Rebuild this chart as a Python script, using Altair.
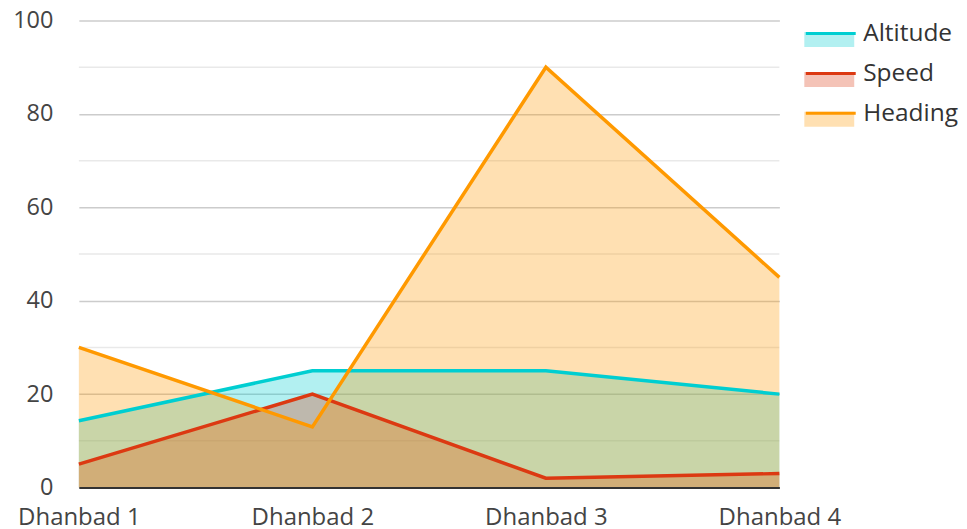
import altair as alt
import pandas as pd

places = ["Dhanbad 1", "Dhanbad 2", "Dhanbad 3", "Dhanbad 4"]
series_names = ["Altitude", "Speed", "Heading"]
altitude = [14.3, 25, 25, 20]
speed = [5, 20, 2, 3]
heading = [30, 13, 90, 45]
minor_grid = [10, 30, 50, 70, 90]
major_ticks = [0, 20, 40, 60, 80, 100]
colors = ["#00CED1", "#DC3912", "#FF9900"]

rows = []
for name, vals in zip(series_names, [altitude, speed, heading]):
    for p, v in zip(places, vals):
        rows.append({"place": p, "series": name, "series_line": name, "value": v})
df = pd.DataFrame(rows)

FONT = "Open Sans"
TXT = "#444444"

y_axis = alt.Axis(values=major_ticks, grid=True, gridColor="#cccccc", gridWidth=1.5,
                  domain=False, ticks=False, labelFontSize=23.5, labelPadding=26,
                  labelColor=TXT, title=None, labelFont=FONT)
y_scale = alt.Scale(domain=[0, 100], nice=False, zero=True)
y_enc = alt.Y("value:Q", scale=y_scale, axis=y_axis)

x_enc = alt.X("place:N", sort=places, scale=alt.Scale(type="point", padding=0),
              axis=alt.Axis(labelAngle=0, domain=True, domainColor="#333333", domainWidth=2,
                            ticks=False, grid=False, labelFontSize=24, labelPadding=18,
                            labelColor=TXT, title=None, labelFont=FONT, zindex=1))

minor = alt.Chart(pd.DataFrame({"value": minor_grid})).mark_rule(
    color="#e9e9e9", strokeWidth=1.5).encode(y=y_enc)

LX, LY, RP = 727, -11, 2
fill_legend = alt.Legend(orient="none", legendX=LX, legendY=LY, padding=0, title=None,
                         symbolType="M-1,-0.1H1V0.5H-1Z", symbolSize=2500,
                         symbolOpacity=0.3, symbolStrokeWidth=0,
                         labelFontSize=24.5, labelFont=FONT, labelColor="#333333",
                         labelOffset=9, rowPadding=RP)
stroke_legend = alt.Legend(orient="none", legendX=LX, legendY=LY, padding=0, title=None,
                           symbolType="M-1,-0.1H1", symbolSize=2500,
                           symbolStrokeWidth=3, symbolFillColor="transparent",
                           labelFontSize=24.5, labelFont=FONT, labelOpacity=0,
                           labelOffset=9, rowPadding=RP)

areas = []
lines = []
for s in series_names:
    areas.append(
        alt.Chart(df).transform_filter(alt.datum.series == s).mark_area(fillOpacity=0.3).encode(
            x=x_enc, y=y_enc,
            fill=alt.Fill("series:N", scale=alt.Scale(domain=series_names, range=colors),
                          legend=fill_legend)))
    lines.append(
        alt.Chart(df).transform_filter(alt.datum.series == s).mark_line(strokeWidth=3.5).encode(
            x=x_enc, y=y_enc,
            stroke=alt.Stroke("series_line:N", sort=series_names,
                              scale=alt.Scale(range=colors), legend=stroke_legend)))

chart = alt.layer(minor, *areas, *lines).properties(
    width=702, height=468,
    padding={"left": 71, "top": 12, "right": 180, "bottom": 41},
    autosize=alt.AutoSizeParams(type="none"),
).configure(font=FONT).configure_view(stroke=None)

chart.save("out.html", embed_options={"renderer": "svg", "actions": False})
